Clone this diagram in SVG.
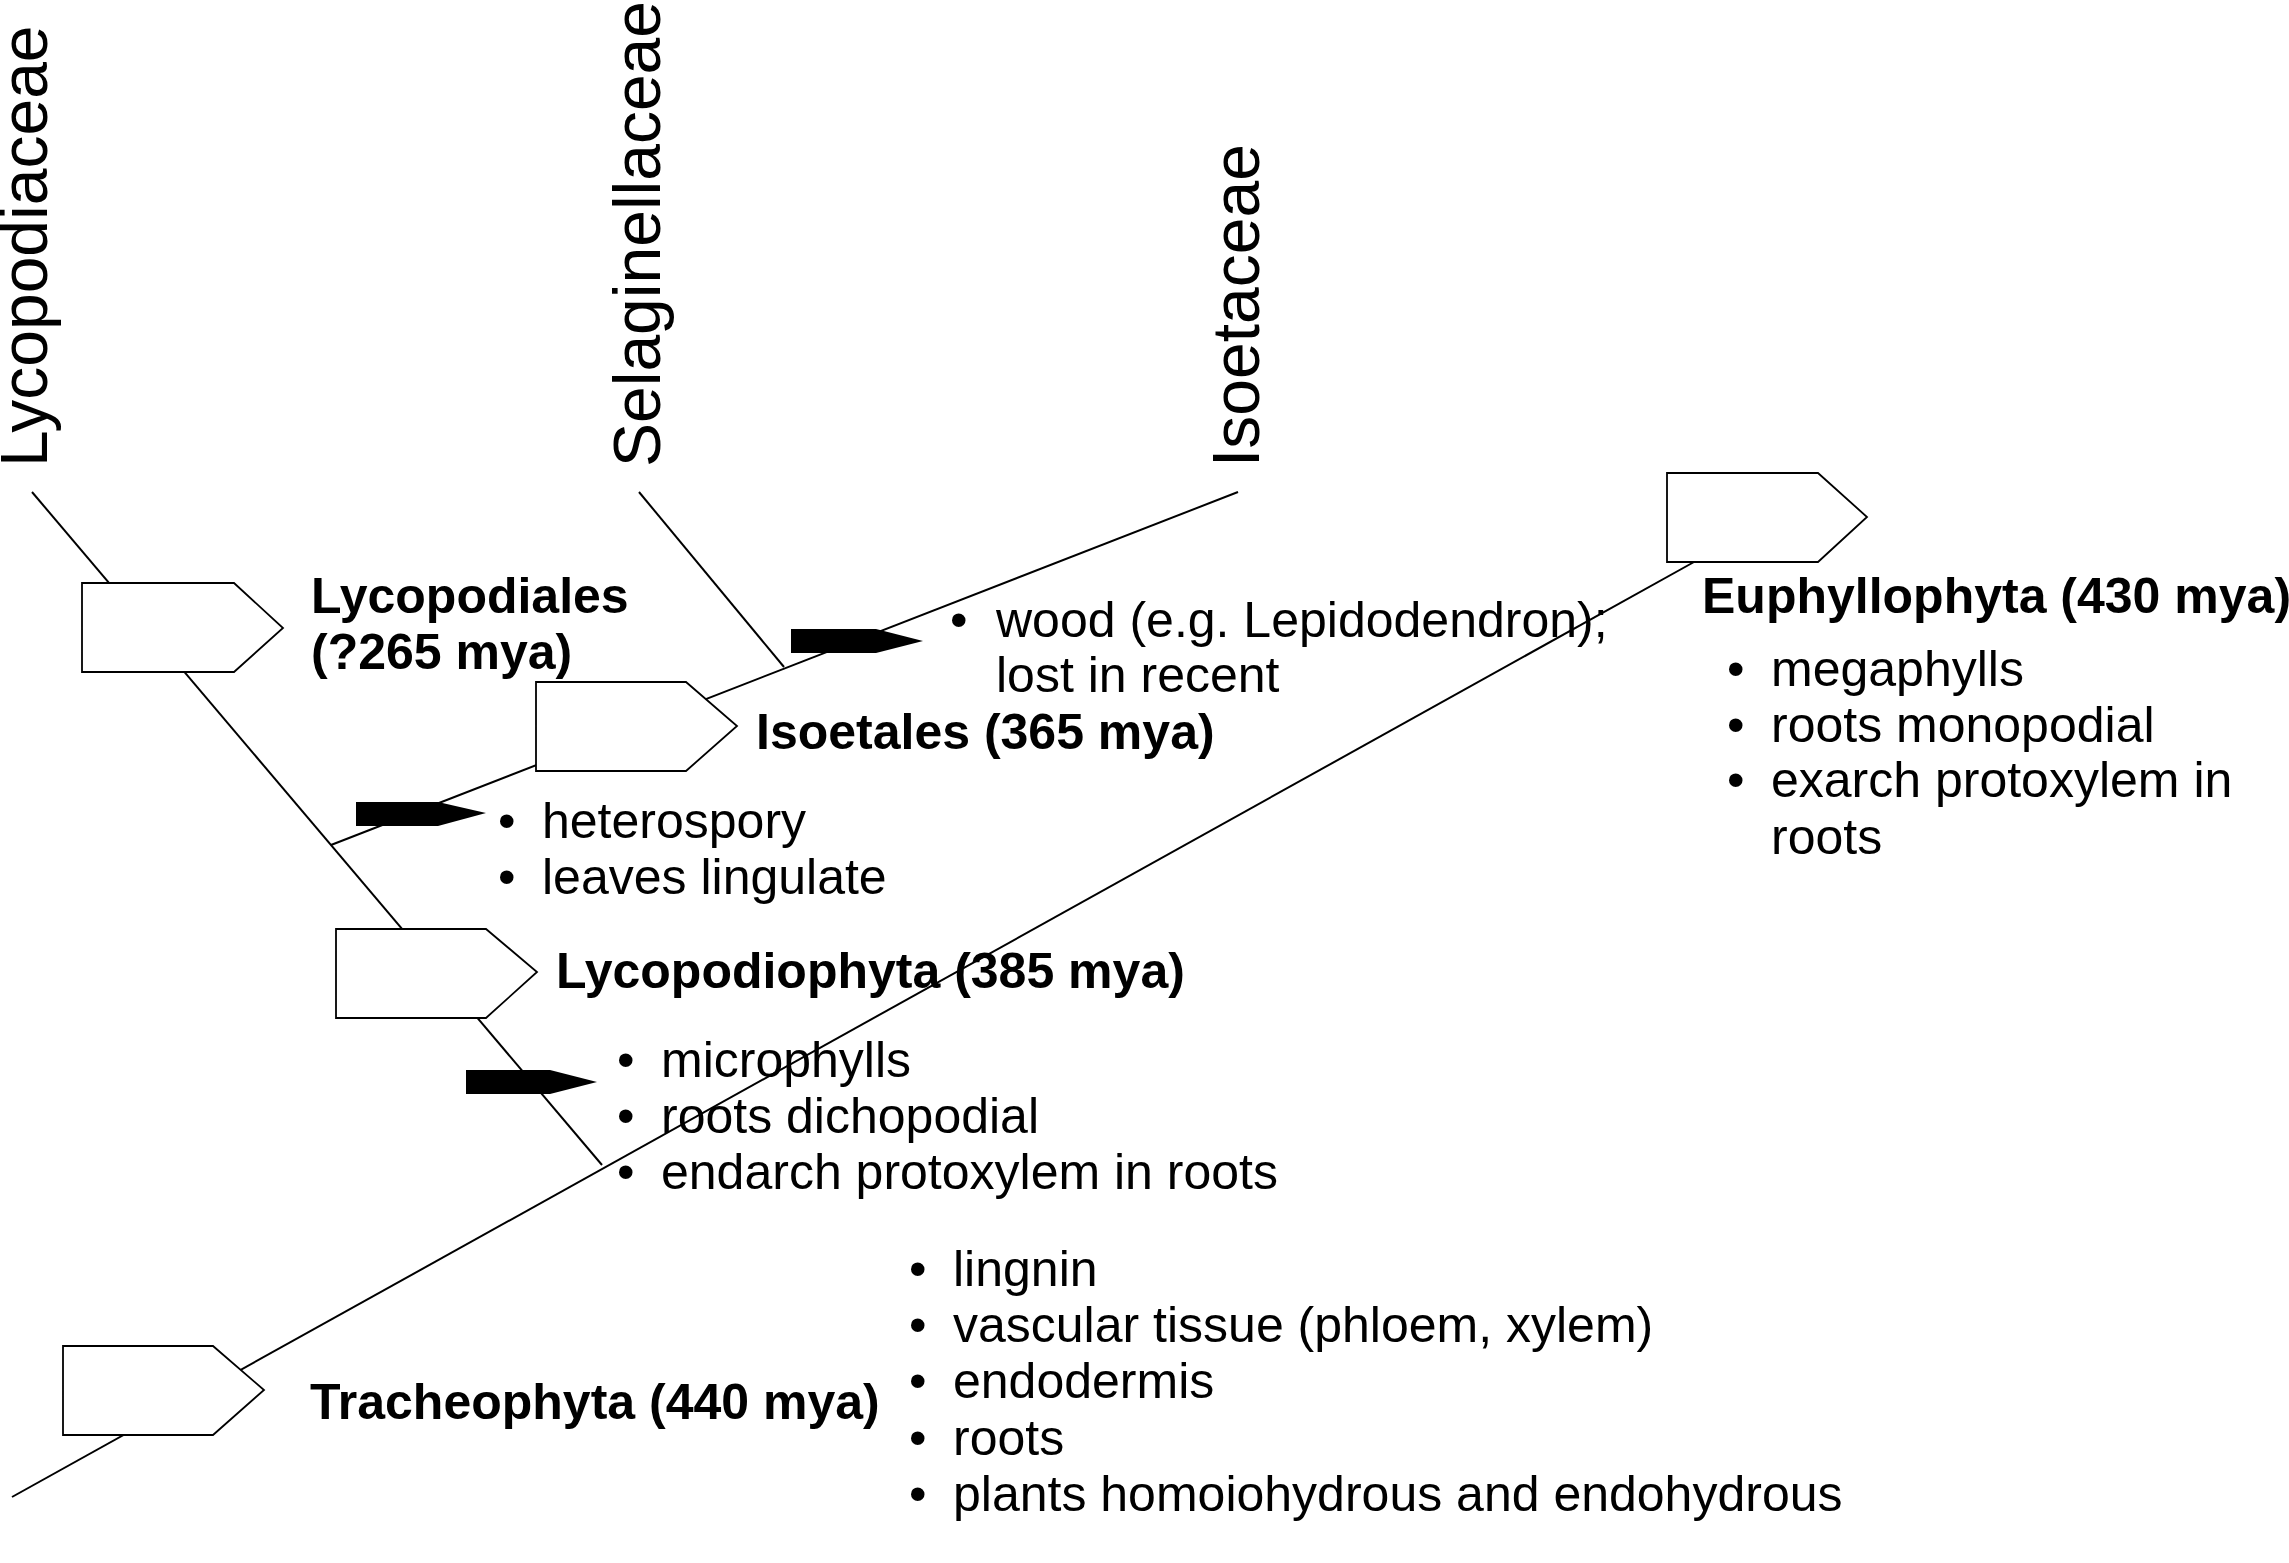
<svg xmlns="http://www.w3.org/2000/svg" width="2289" height="1563" viewBox="0 0 2289 1563">
<style>
.l{stroke:#000;stroke-width:2;fill:none}
.b{fill:#fff;stroke:#000;stroke-width:1.8}
.a{fill:#000}
text{font-family:"Liberation Sans",Arial,sans-serif;font-size:50px;fill:#000}
.h{font-weight:bold}
.v{font-size:66px}
</style>
<rect width="2289" height="1563" fill="#fff"/>
<g id="connectors">
<line class="l" x1="12" y1="1497" x2="1694" y2="562"/>
<line class="l" x1="32" y1="492" x2="602" y2="1165"/>
<line class="l" x1="639" y1="492" x2="784" y2="667"/>
<line class="l" x1="1238" y1="492" x2="331" y2="845"/>
</g>
<g id="taxa">
<text class="v" transform="translate(47,467) rotate(-90)">Lycopodiaceae</text>
<text class="v" transform="translate(660,467) rotate(-90)">Selaginellaceae</text>
<text class="v" transform="translate(1259,467) rotate(-90)">Isoetaceae</text>
</g>
<g id="lycopodiales">
<path class="b" d="M82,583H234L283,628L234,672H82Z"/>
<text class="h" x="311" y="613">Lycopodiales</text>
<text class="h" x="311" y="669">(?265 mya)</text>
</g>
<g id="isoetales">
<path class="b" d="M536,682H686L737,726L686,771H536Z"/>
<text class="h" x="756" y="749">Isoetales (365 mya)</text>
</g>
<g id="lycopodiophyta">
<path class="b" d="M336,929H486L537,972L486,1018H336Z"/>
<text class="h" x="556" y="988">Lycopodiophyta (385 mya)</text>
</g>
<g id="tracheophyta">
<path class="b" d="M63,1346H213L264,1390L213,1435H63Z"/>
<text class="h" x="310" y="1419">Tracheophyta (440 mya)</text>
</g>
<g id="euphyllophyta">
<path class="b" d="M1667,473H1818L1867,517L1818,562H1667Z"/>
<text class="h" x="1702" y="613">Euphyllophyta (430 mya)</text>
</g>
<g id="arrows">
<path class="a" d="M791,629H876L923,641L876,653H791Z"/>
<path class="a" d="M356,802H438L486,813L438,826H356Z"/>
<path class="a" d="M466,1070H550L597,1082L550,1094H466Z"/>
</g>
<g id="wood">
<text x="950" y="637">•</text><text x="996" y="637">wood (e.g. Lepidodendron);</text>
<text x="996" y="692">lost in recent</text>
</g>
<g id="hetero">
<text x="498" y="838">•</text><text x="542" y="838">heterospory</text>
<text x="498" y="894">•</text><text x="542" y="894">leaves lingulate</text>
</g>
<g id="micro">
<text x="617" y="1077">•</text><text x="661" y="1077">microphylls</text>
<text x="617" y="1133">•</text><text x="661" y="1133">roots dichopodial</text>
<text x="617" y="1189">•</text><text x="661" y="1189">endarch protoxylem in roots</text>
</g>
<g id="trach">
<text x="909" y="1286">•</text><text x="953" y="1286">lingnin</text>
<text x="909" y="1342">•</text><text x="953" y="1342">vascular tissue (phloem, xylem)</text>
<text x="909" y="1398">•</text><text x="953" y="1398">endodermis</text>
<text x="909" y="1455">•</text><text x="953" y="1455">roots</text>
<text x="909" y="1511">•</text><text x="953" y="1511">plants homoiohydrous and endohydrous</text>
</g>
<g id="euph">
<text x="1727" y="686">•</text><text x="1771" y="686">megaphylls</text>
<text x="1727" y="742">•</text><text x="1771" y="742">roots monopodial</text>
<text x="1727" y="797">•</text><text x="1771" y="797">exarch protoxylem in</text>
<text x="1771" y="854">roots</text>
</g>
</svg>
